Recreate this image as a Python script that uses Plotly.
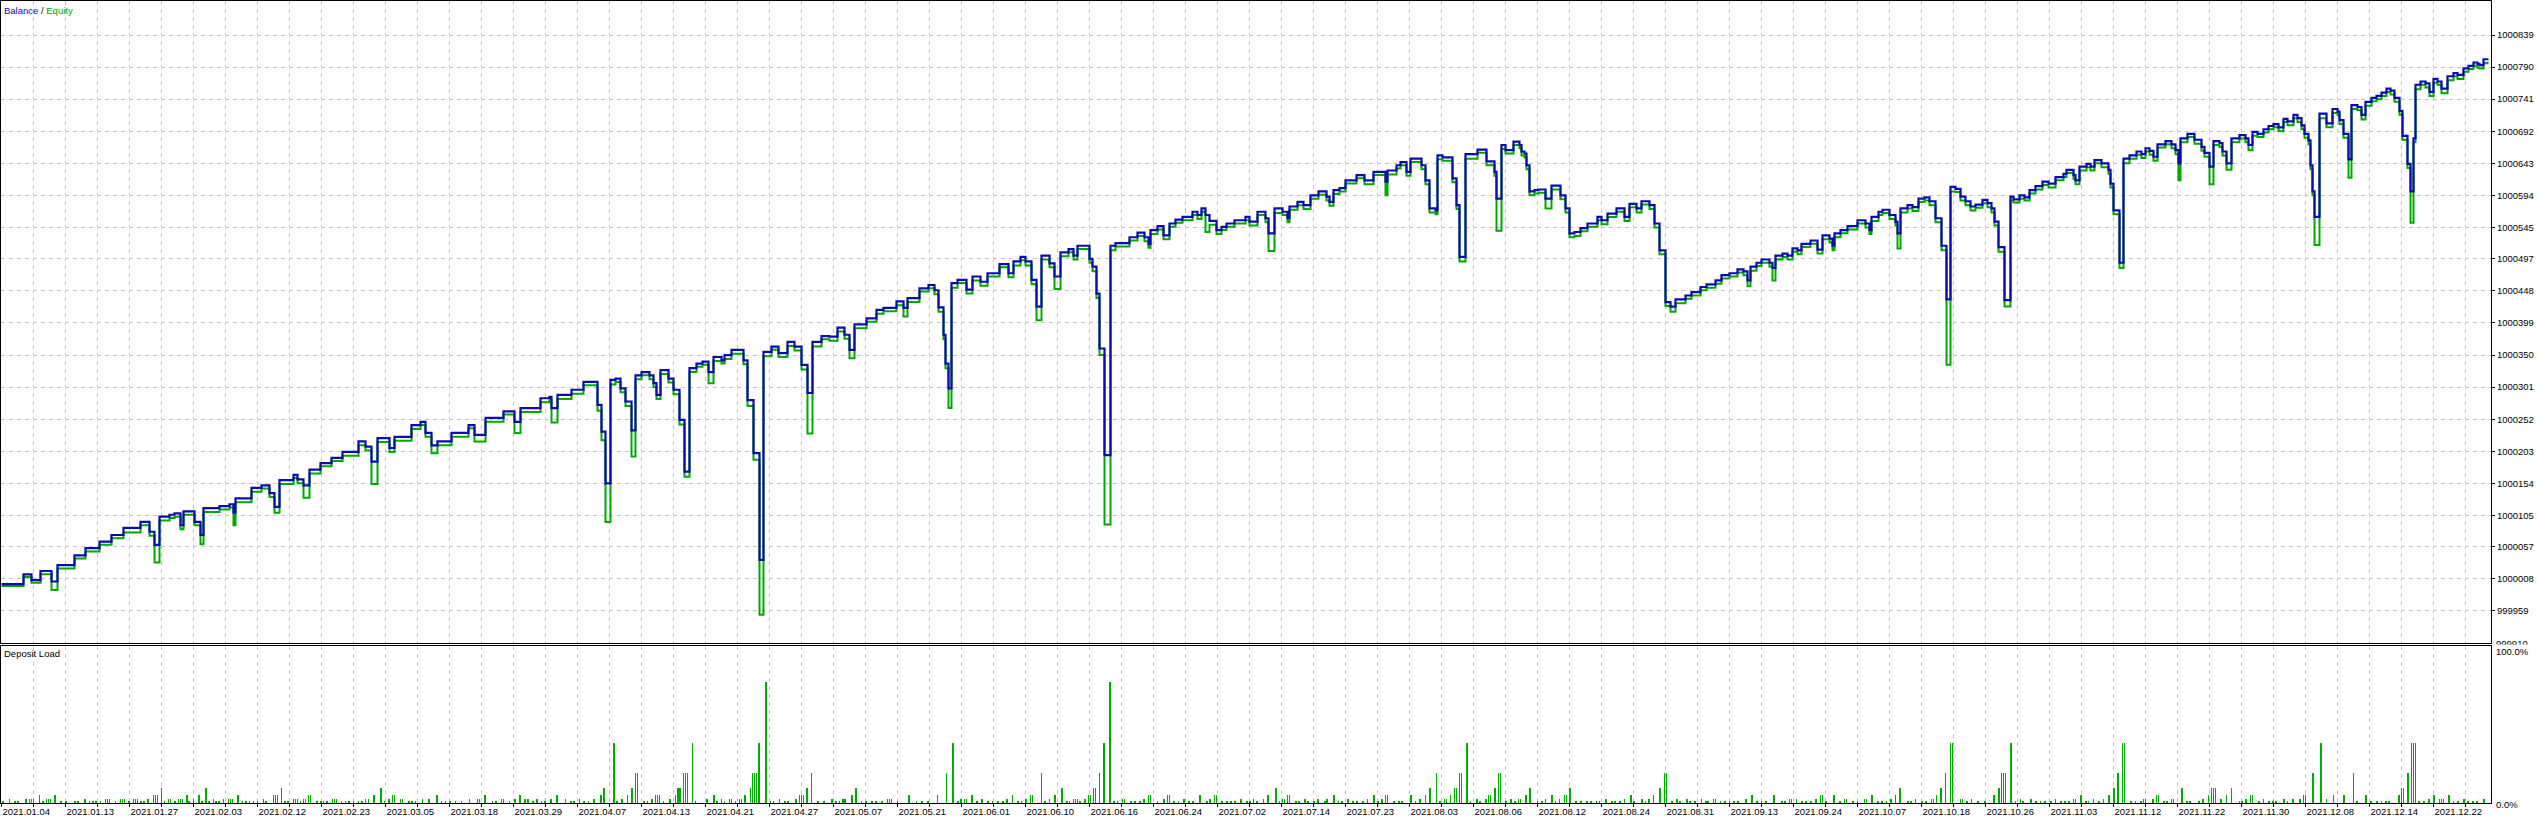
import plotly.graph_objects as go

# ---------------- data ----------------
INITIAL_DEPOSIT = 1000000

# deal number at which each balance / equity level starts
DEALS = [
    0, 11, 15, 19.5, 25, 28, 36.5, 42, 49, 55,
    61, 69.5, 74, 76.5, 79, 84, 86.5, 89.5, 91, 96.5,
    99.5, 101, 109, 114, 116, 117, 125, 130, 134, 136.5,
    139, 146, 148, 151, 154, 159.5, 165, 170.5, 178.5, 182,
    185, 188, 194, 196.5, 205, 209.5, 212, 215, 218, 225,
    233.5, 236.5, 242, 251, 256.5, 259.5, 269.5, 274, 275, 278,
    285, 291, 298, 300, 302, 304.5, 307, 309.5, 312, 315,
    317, 320, 324, 326, 327.5, 329.5, 333.5, 336, 339, 341.5,
    344, 347.5, 350.5, 353.5, 356, 360, 361.5, 365, 371, 373,
    376, 379, 381, 385, 388.5, 393, 396.5, 400, 403, 405.5,
    410, 414, 418, 421.5, 424, 426.5, 432.5, 437.5, 441, 447.5,
    451, 453, 459, 463.5, 466.5, 468.5, 471, 472, 473.5, 475,
    478, 482.5, 485.5, 489.5, 493, 499, 503.5, 506, 509.5, 512,
    515, 517.5, 520, 524, 526.5, 529.5, 533.5, 536, 538, 544,
    545.5, 547.5, 549, 551.5, 554.5, 557, 564, 568, 571.5, 573.5,
    574.5, 578, 581, 584, 587, 590.5, 595.5, 598, 600, 602,
    604, 607.5, 610, 612.5, 616.5, 622, 624, 628, 632, 633.5,
    636.5, 640.5, 643, 644, 648, 651, 654.5, 658.5, 662.5, 664,
    666, 669, 672, 677.5, 681.5, 686, 692, 693, 697.5, 699.5,
    702.5, 704.5, 710, 712, 714, 717, 718, 720.5, 725.5, 727.5,
    729, 732, 738, 742.5, 746.5, 747.5, 750, 752, 756, 759,
    760, 761.5, 762.5, 764, 766.5, 768.5, 772, 775, 779.5, 782,
    784, 786.5, 789.5, 793, 798, 800, 803, 807.5, 811.5, 814,
    817.5, 820, 824, 826.5, 829, 832, 834.5, 837, 842, 845,
    849.5, 852.5, 857, 860, 864, 868, 871, 873, 874.5, 877.5,
    880, 884, 885.5, 887, 890.5, 893, 895.5, 898, 900, 904.5,
    908, 910.5, 914, 915.5, 916.5, 919.5, 923, 928, 932, 934,
    935, 938.5, 940.5, 944, 947, 948, 949.5, 953, 955.5, 958.5,
    961.5, 964, 967, 970, 972.5, 974.5, 977, 979.5, 982, 984.5,
    987, 990.5, 993, 995, 996.5, 998.5, 1001.5, 1004.5, 1006, 1009,
    1011.5, 1014, 1017, 1020.5, 1023.5, 1027, 1031, 1032.5, 1036, 1037,
    1039, 1042.5, 1044.5, 1046.5, 1050, 1053.5, 1054.5, 1056, 1059, 1061,
    1064, 1067.5, 1070, 1072, 1074, 1076, 1078, 1082, 1085, 1087,
    1088.5, 1089.5, 1093, 1096.5, 1100, 1101.5, 1104, 1106, 1109, 1110.5,
    1112.5, 1115, 1119, 1122, 1123.5, 1125.5, 1128, 1131, 1133.5, 1136,
    1138.5, 1141, 1143, 1146, 1148, 1150, 1151.5, 1153.5, 1154.5, 1155.5,
    1156.5, 1159, 1162.5, 1165.5, 1168, 1169, 1171, 1173.5, 1175, 1178,
    1180, 1182, 1185, 1187.5, 1190, 1192.5, 1194.5, 1196.5, 1199, 1200.5,
    1203, 1204.5, 1206, 1207, 1209.5, 1212, 1214, 1216, 1218, 1220,
    1223, 1226, 1228, 1231, 1233.5, 1236, 1238, 1239, 1241, 1243,
]

# balance profit (account balance minus the initial deposit)
BALANCE_PROFIT = [
    0, 15, 6, 20, 4, 29, 44, 55, 65, 75,
    86, 95, 80, 60, 103, 106, 108, 90, 111, 95,
    75, 116, 119, 122, 109, 131, 147, 151, 139, 118,
    159, 167, 160, 151, 175, 185, 193, 202, 218, 210,
    187, 223, 208, 225, 243, 248, 231, 212, 218, 231,
    243, 228, 254, 264, 248, 269, 284, 286, 269, 289,
    297, 309, 274, 233, 154, 312, 314, 299, 279, 235,
    319, 324, 319, 307, 289, 327, 314, 297, 251, 172,
    330, 337, 340, 324, 347, 342, 350, 358, 342, 281,
    200, 37, 355, 363, 353, 370, 363, 335, 292, 370,
    379, 378, 392, 381, 358, 397, 406, 419, 422, 432,
    422, 437, 452, 457, 449, 423, 381, 337, 299, 460,
    465, 450, 470, 462, 475, 489, 475, 493, 500, 493,
    465, 424, 502, 490, 470, 507, 512, 502, 517, 497,
    485, 444, 360, 197, 517, 521, 530, 537, 530, 520,
    541, 547, 533, 551, 557, 561, 569, 564, 574, 564,
    555, 541, 546, 551, 556, 561, 554, 569, 559, 536,
    574, 569, 559, 577, 584, 579, 594, 600, 592, 584,
    602, 605, 617, 625, 617, 630, 615, 632, 640, 645,
    630, 650, 640, 617, 574, 571, 655, 652, 620, 579,
    500, 657, 664, 646, 630, 589, 671, 663, 676, 671,
    661, 658, 640, 600, 602, 603, 589, 609, 594, 574,
    536, 538, 544, 551, 561, 556, 566, 574, 561, 581,
    574, 585, 579, 551, 510, 431, 424, 435, 441, 446,
    454, 458, 464, 472, 475, 481, 478, 464, 485, 491,
    496, 491, 483, 502, 505, 502, 513, 510, 520, 525,
    511, 533, 528, 517, 536, 541, 547, 556, 551, 541,
    561, 569, 572, 564, 554, 536, 574, 579, 576, 589,
    591, 585, 559, 517, 435, 607, 604, 592, 585, 577,
    580, 587, 582, 574, 554, 515, 434, 592, 588, 594,
    591, 602, 608, 615, 612, 622, 627, 633, 625, 617,
    638, 642, 638, 648, 643, 633, 612, 571, 491, 650,
    655, 661, 657, 666, 662, 653, 672, 677, 672, 663,
    643, 681, 688, 679, 668, 659, 638, 677, 674, 661,
    643, 681, 686, 681, 671, 691, 688, 695, 700, 703,
    698, 711, 707, 717, 712, 701, 688, 678, 640, 600,
    561, 719, 704, 726, 722, 709, 688, 649, 732, 729,
    717, 737, 743, 746, 751, 757, 754, 743, 723, 685,
    642, 600, 681, 763, 768, 765, 752, 772, 768, 757,
    776, 781, 778, 788, 792, 797, 795, 793, 802, 803,
]

# equity profit at the same deals
EQUITY_PROFIT = [
    -3, 11, 2, 15, -9, 24, 39, 50, 60, 70,
    79, 90, 74, 33, 97, 101, 103, 84, 106, 90,
    61, 110, 114, 117, 90, 125, 141, 146, 133, 109,
    153, 162, 154, 132, 169, 180, 188, 196, 212, 204,
    153, 217, 202, 219, 237, 243, 225, 200, 212, 225,
    238, 218, 248, 259, 231, 263, 278, 281, 247, 283,
    291, 304, 265, 220, 95, 305, 309, 293, 272, 195,
    313, 319, 313, 301, 283, 321, 308, 290, 244, 164,
    324, 332, 335, 307, 341, 337, 344, 352, 336, 272,
    190, -47, 348, 358, 347, 364, 357, 328, 230, 363,
    374, 372, 386, 375, 345, 391, 401, 413, 417, 426,
    409, 431, 447, 452, 443, 416, 374, 330, 269, 453,
    460, 444, 464, 456, 470, 484, 469, 487, 495, 487,
    458, 403, 496, 484, 451, 501, 507, 496, 512, 491,
    478, 437, 350, 91, 510, 516, 525, 532, 524, 514,
    535, 542, 527, 546, 552, 556, 564, 558, 569, 538,
    549, 535, 541, 546, 551, 556, 548, 564, 553, 509,
    567, 564, 553, 572, 579, 573, 589, 595, 586, 578,
    596, 600, 612, 620, 611, 625, 594, 626, 635, 640,
    624, 645, 634, 611, 568, 565, 649, 647, 614, 573,
    493, 650, 659, 640, 624, 540, 665, 658, 671, 666,
    655, 652, 634, 594, 597, 598, 574, 603, 588, 568,
    530, 532, 539, 546, 556, 550, 561, 569, 555, 576,
    568, 580, 573, 545, 504, 425, 416, 429, 436, 441,
    449, 453, 459, 467, 470, 476, 472, 455, 479, 486,
    491, 485, 464, 496, 500, 496, 508, 504, 515, 520,
    505, 527, 522, 510, 530, 536, 542, 551, 545, 535,
    555, 564, 567, 558, 548, 513, 568, 574, 570, 584,
    586, 579, 553, 510, 335, 600, 599, 586, 579, 571,
    575, 582, 576, 568, 548, 508, 424, 586, 583, 589,
    586, 597, 603, 610, 606, 617, 622, 628, 619, 611,
    632, 637, 632, 643, 637, 627, 606, 565, 483, 643,
    650, 656, 651, 661, 656, 647, 667, 672, 666, 657,
    617, 675, 683, 673, 662, 653, 611, 671, 668, 655,
    633, 675, 681, 675, 663, 685, 683, 690, 695, 698,
    692, 706, 701, 712, 706, 695, 682, 672, 634, 594,
    518, 712, 698, 720, 717, 703, 682, 621, 726, 724,
    710, 731, 738, 741, 746, 752, 748, 737, 717, 679,
    636, 552, 675, 756, 763, 759, 746, 766, 763, 750,
    770, 776, 772, 783, 787, 792, 789, 788, 796, 798,
]

# deposit load: deals grouped by load level (%)
LOAD_1_2 = [
    0.7, 6.7, 8.3, 20.8, 29.7, 32.4, 36.8, 38.4, 44, 45.8, 47.3, 49.5, 57, 63.6, 69.6, 71.4,
    81.5, 86.6, 93.8, 100.4, 103.8, 107.2, 108.7, 120.5, 122.3, 124, 126, 128, 132.4, 141.7,
    143.3, 149.5, 157.6, 159.6, 161, 162.7, 170, 172, 173.7, 176, 178.5, 180.4, 191.5, 203.6,
    205.4, 207, 220, 222, 224.3, 227, 230, 245.5, 247.3, 254, 265.6, 270, 271.9, 284.6, 286.4,
    291.3, 293.5, 307.6, 321.4, 323, 331, 347,
    357.7, 361.5, 367, 384.5, 386, 391.7, 393.4, 408.4, 411.3, 417.3, 419, 430, 432.3, 435.2,
    437.4, 440.1, 448, 457.5, 460.2, 463.1, 478.3, 487.6, 493.2, 495.5, 498.4, 500.6, 508.2,
    510, 521.6, 532.7, 534, 539.4, 556.4, 558, 564.7, 566.9, 569.1, 578, 586.3, 588.5, 593.7,
    595.9, 602.6, 610.4, 612.6, 614.9, 616.7, 622.7, 624.3, 627.8, 639, 647.2, 648.8, 653.3,
    656.2, 661.8, 668.5, 670.3, 675.6, 677.8, 680.7, 688.1, 696.3, 698.6,
    700.4, 707, 719.3, 734.5, 739.4, 752.2, 756.8, 768, 770.2, 777, 787.4, 789.7, 792.6, 794.8,
    797.5, 799, 805.3, 806.8, 809.1, 816.4, 822, 835.4, 839.4, 844.3, 846.6, 852.2, 853.3,
    859.5, 861.8, 864, 866.2, 868.4, 877.8, 880, 882.3, 890.1, 891.7, 900.1, 902.4, 904.6,
    912.4, 919.1, 925.8, 928, 938.1, 940.3, 942.5, 953.3, 954.8, 960.4, 962.2, 982.7, 988.3, 991.7,
    1007, 1010.9, 1017.3, 1019.5, 1021.9, 1024.6, 1029.8, 1031.8, 1033.6, 1042.1, 1043.5, 1048.7,
    1064.8, 1067, 1069.6, 1081.2, 1082.9, 1092.7, 1094.4, 1098.7, 1119, 1120.2, 1128.8, 1133.9,
    1135.6, 1137.3, 1143, 1177.6, 1184.8, 1187.6, 1190, 1192.2, 1193.9, 1208.9, 1211.1, 1226,
    1228.3, 1233.4, 1235.6, 1237.7,
]
LOAD_2_4 = [
    4, 12.3, 14, 15, 16, 22.5, 23.5, 24.5, 41.7, 52, 53, 54, 59.5, 60.5, 61.5, 66, 67, 68, 73.2,
    83.5, 84.5, 88.5, 89.5, 90.5, 96, 106, 111, 113.5, 114.5, 115.5, 131, 146, 147, 148, 151, 152,
    165.5, 166.5, 167.5, 182, 183.5, 193.7, 199.5, 200.5, 210.5, 213.8, 234, 238, 239, 250, 251,
    256.7, 261.6, 263.4, 267.9, 274.6, 282, 289, 296.4, 310.3, 325.4, 334.4,
    352.6, 360, 364, 365, 369, 370, 389, 397.2, 415.1, 420.7, 421.7, 443, 444, 445, 479.8, 481.5,
    482.5, 490.3, 502.8, 512.2, 524, 536, 537, 538, 541.7, 560.5, 561.5, 571.3, 581.4, 591.4,
    604.2, 619.8, 626, 631, 640.5, 641.5, 651.7, 658.4, 662.9, 673.4, 683, 690.3,
    709.3, 721.5, 722.5, 737.6, 742.1, 754.6, 758.5, 759.5, 772, 779, 802.4, 811.5, 820.2, 823.6,
    837.6, 842.6, 850, 856, 857, 872.2, 894, 895, 897.5, 907.3, 921.5, 922.5, 931.5, 932.5, 944.8,
    957, 965, 966, 979.5, 980.5, 985,
    1009.5, 1014.7, 1027, 1036, 1037, 1046, 1051, 1071, 1072, 1075.6, 1085, 1086, 1100.8, 1109.9,
    1122.4, 1131, 1141.3, 1145.9, 1149.3, 1162.5, 1213.7, 1219, 1220, 1221, 1231.2, 1241.1,
]
LOAD_4_9 = [
    19, 26.8, 76, 77, 78, 92.6, 98.9, 118.3, 136, 137, 138, 153.5, 154.5, 186.4, 195.5, 196.5,
    217.6, 241.7, 259.4, 277.9, 299.6, 313, 327, 328, 329, 337,
    356.4, 371.6, 399, 400, 401, 425.1, 453.7, 468, 485.4, 505.5, 514.5, 515.5, 526.7, 543.5,
    544.5, 573.5, 574.5, 583, 584, 599.3, 606.5, 607.5, 633.2, 643, 644, 666.2, 686.3, 692, 693,
    704.8, 712, 724.5, 743.5, 744.5, 762.2, 775.1, 781.5, 782.5, 814.9, 826, 875.1, 886.3, 909.5,
    910.5, 916.2, 935.4, 947, 967.5, 996.1,
    1039.6, 1053.8, 1077.5, 1078.5, 1103.5, 1112.5, 1124.5, 1125.5, 1151, 1152, 1166, 1171.1,
    1182.4, 1198.6, 1216.2, 1223.6,
]
LOAD_9_8 = [
    80, 102.2, 140, 189.7, 301.3, 315.2, 338.4, 339.4, 374.5, 402.8, 427.4, 530.1, 546, 547,
    637.2, 714.4, 726.5, 727.5, 746.8, 764.4, 784.1, 829.2, 949.3, 969.8, 998.8, 1056.2, 1090.2,
    1105, 1106, 1107, 1115, 1200, 1201,
]
LOAD_19_5 = [
    317, 318, 341, 342, 343, 375.5, 376.5, 377.5, 405, 472.5, 520, 549, 717.5, 729, 730, 748.5,
    749.5, 831.5, 832.5, 972, 1000, 1001, 1002, 1058.4, 1155.7, 1176, 1203.4,
]
LOAD_39 = [306.3, 345.5, 378.7, 475.8, 551.3, 732.7, 974.5, 975.5, 1004.7, 1060.5, 1061.5,
           1159.6, 1205, 1206, 1207]
LOAD_78 = [382.3, 554.2]

DATE_LABELS = [
    "2021.01.04", "2021.01.13", "2021.01.27", "2021.02.03", "2021.02.12", "2021.02.23",
    "2021.03.05", "2021.03.18", "2021.03.29", "2021.04.07", "2021.04.13", "2021.04.21",
    "2021.04.27", "2021.05.07", "2021.05.21", "2021.06.01", "2021.06.10", "2021.06.16",
    "2021.06.24", "2021.07.02", "2021.07.14", "2021.07.23", "2021.08.03", "2021.08.06",
    "2021.08.12", "2021.08.24", "2021.08.31", "2021.09.13", "2021.09.24", "2021.10.07",
    "2021.10.18", "2021.10.26", "2021.11.03", "2021.11.12", "2021.11.22", "2021.11.30",
    "2021.12.08", "2021.12.14", "2021.12.22",
]
PRICE_TICKS = [999959, 1000008, 1000057, 1000105, 1000154, 1000203, 1000252, 1000301,
               1000350, 1000399, 1000448, 1000497, 1000545, 1000594, 1000643, 1000692,
               1000741, 1000790, 1000839]
PRICE_BOTTOM_LABEL = "999910"

# ---------------- derived series ----------------
assert len(DEALS) == len(BALANCE_PROFIT) == len(EQUITY_PROFIT)
balance = [INITIAL_DEPOSIT + v for v in BALANCE_PROFIT]
equity = [INITIAL_DEPOSIT + v for v in EQUITY_PROFIT]

load_groups = [(1.2, LOAD_1_2), (2.4, LOAD_2_4), (4.9, LOAD_4_9), (9.8, LOAD_9_8),
               (19.5, LOAD_19_5), (39.0, LOAD_39), (78.0, LOAD_78)]
bar_x, bar_y = [], []
for pct, deals in load_groups:
    bar_x += deals
    bar_y += [pct] * len(deals)

# ---------------- layout geometry ----------------
W, H = 2538, 819
PL, PR, PT, PB = 1, 2491, 1, 803          # plot area in pixels
X_RANGE = [-0.25, 1244.75]
Y_RANGE = [999910, 1000891]
LOAD_RANGE = [0, 101.3]
UPPER_DOMAIN = [(PB - 643) / (PB - PT), 1]
LOWER_DOMAIN = [0, (PB - 646) / (PB - PT)]

def pxx(x):
    return (x - PL) / (PR - PL)

def pxy(y):
    return (PB - y) / (PB - PT)

grid_step = 16
grid_vals = [grid_step * k for k in range(78)]
grid_text = [DATE_LABELS[k // 2] if k % 2 == 0 and k // 2 < len(DATE_LABELS) else "" for k in range(78)]

BLUE = "#0C0CAE"
GREEN = "#00A800"
GRID = "#C4C4C4"
FONT = dict(family="Liberation Sans, Arial, sans-serif", size=9.5, color="black")

fig = go.Figure()
fig.add_trace(go.Scatter(x=DEALS, y=equity, mode="lines", xaxis="x", yaxis="y",
                         line=dict(color=GREEN, width=2, shape="hv"), hoverinfo="skip"))
fig.add_trace(go.Scatter(x=DEALS, y=balance, mode="lines", xaxis="x", yaxis="y",
                         line=dict(color=BLUE, width=2.2, shape="hv"), hoverinfo="skip"))
fig.add_trace(go.Bar(x=bar_x, y=bar_y, xaxis="x2", yaxis="y2", width=0.9,
                     marker=dict(color="#00AA00", line=dict(width=0)), hoverinfo="skip"))

common_x = dict(range=X_RANGE, tickmode="array", tickvals=grid_vals, showgrid=True,
                gridcolor=GRID, griddash="4px,4px", gridwidth=1, zeroline=False,
                showline=True, mirror=True, linecolor="black", linewidth=1,
                automargin=False, fixedrange=True)

fig.update_layout(
    width=W, height=H, template="none",
    margin=dict(l=PL, r=W - PR, t=PT, b=H - PB, pad=0),
    paper_bgcolor="white", plot_bgcolor="white", showlegend=False,
    font=FONT, bargap=0,
    xaxis=dict(common_x, domain=[0, 1], anchor="y", showticklabels=False, ticks=""),
    xaxis2=dict(common_x, domain=[0, 1], anchor="y2", matches="x", ticktext=grid_text,
                ticks="outside", ticklen=3, tickcolor="black", tickwidth=1,
                ticklabelposition="outside right", tickfont=FONT),
    yaxis=dict(domain=UPPER_DOMAIN, anchor="x", side="right", range=Y_RANGE,
               tickmode="array", tickvals=PRICE_TICKS, ticktext=[str(v) for v in PRICE_TICKS],
               ticks="outside", ticklen=3, tickcolor="black", tickfont=FONT,
               showgrid=True, gridcolor=GRID, griddash="4px,4px", gridwidth=1, zeroline=False,
               showline=True, mirror=True, linecolor="black", linewidth=1,
               automargin=False, fixedrange=True),
    yaxis2=dict(domain=LOWER_DOMAIN, anchor="x2", range=LOAD_RANGE, showgrid=False,
                showticklabels=False, ticks="", zeroline=False, showline=True, mirror=True,
                linecolor="black", linewidth=1, automargin=False, fixedrange=True),
)

ann = [
    dict(text="<span style='color:%s'>Balance</span> / <span style='color:%s'>Equity</span>" % (BLUE, GREEN),
         x=pxx(2), y=pxy(10.5), xanchor="left", yanchor="middle"),
    dict(text="Deposit Load", x=pxx(2), y=pxy(653), xanchor="left", yanchor="middle"),
    dict(text=PRICE_BOTTOM_LABEL, x=pxx(2494), y=pxy(643), xanchor="left", yanchor="middle"),
    dict(text="100.0%", x=pxx(2494), y=pxy(651), xanchor="left", yanchor="middle",
         bgcolor="white"),
    dict(text="0.0%", x=pxx(2494), y=pxy(804), xanchor="left", yanchor="middle"),
]
for a in ann:
    a.update(xref="paper", yref="paper", showarrow=False, font=FONT)
fig.update_layout(annotations=ann)

fig.write_html(
    "out.html",
    config={"displayModeBar": False, "staticPlot": True},
    post_script="document.body.style.margin='0';document.body.style.padding='0';"
                "document.body.style.overflow='hidden';",
)
